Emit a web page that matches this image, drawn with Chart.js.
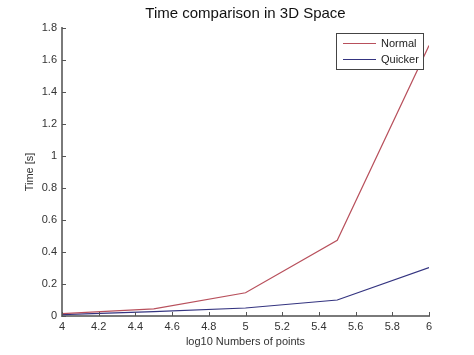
<!DOCTYPE html>
<html>
<head>
<meta charset="utf-8">
<script src="https://cdn.jsdelivr.net/npm/chart.js@4/dist/chart.umd.min.js"></script>
<style>
  html, body { margin: 0; padding: 0; background: #fff; }
  #wrap { width: 474px; height: 355px; }
</style>
</head>
<body>
<div id="wrap"><canvas id="c" width="474" height="355"></canvas></div>
<script>
const titleText = 'Time comparison in 3D Space';
const xTitle = 'log10 Numbers of points';
const yTitle = 'Time [s]';
const xValues = [4, 4.5, 5, 5.5, 6];
const normalValues = [0.015, 0.044, 0.145, 0.473, 1.69];
const quickerValues = [0.008, 0.027, 0.05, 0.10, 0.303];
const seriesNames = ['Normal', 'Quicker'];
const seriesColors = ['#b8505c', '#343480'];

const FONT = 'Liberation Sans, Arial, sans-serif';

const decor = {
  id: 'decor',
  afterDatasetsDraw(chart) {
    const ctx = chart.ctx;
    const xs = chart.scales.x, ys = chart.scales.y;
    const area = chart.chartArea;
    ctx.save();
    // inward tick marks
    ctx.strokeStyle = '#555';
    ctx.lineWidth = 1;
    xs.ticks.forEach(t => {
      const px = Math.round(xs.getPixelForValue(t.value)) + 0.5;
      ctx.beginPath();
      ctx.moveTo(px, area.bottom);
      ctx.lineTo(px, area.bottom - 4);
      ctx.stroke();
    });
    ys.ticks.forEach(t => {
      const py = Math.round(ys.getPixelForValue(t.value)) + 0.5;
      ctx.beginPath();
      ctx.moveTo(area.left, py);
      ctx.lineTo(area.left + 4, py);
      ctx.stroke();
    });
    // title centered over plot area
    ctx.fillStyle = '#111';
    ctx.font = '15px ' + FONT;
    ctx.textAlign = 'center';
    ctx.textBaseline = 'middle';
    ctx.fillText(titleText, (area.left + area.right) / 2, 13.5);
    // legend box
    const bx = 336.5, by = 33.5, bw = 87, bh = 36;
    ctx.fillStyle = '#fff';
    ctx.fillRect(bx, by, bw, bh);
    ctx.strokeStyle = '#444';
    ctx.lineWidth = 1;
    ctx.strokeRect(bx, by, bw, bh);
    ctx.font = '11px ' + FONT;
    ctx.textAlign = 'left';
    chart.data.datasets.forEach((ds, i) => {
      const ly = 43.5 + i * 16;
      ctx.strokeStyle = ds.borderColor;
      ctx.beginPath();
      ctx.moveTo(343, ly);
      ctx.lineTo(376, ly);
      ctx.stroke();
      ctx.fillStyle = '#222';
      ctx.fillText(ds.label, 381, ly + 0.5);
    });
    ctx.restore();
  }
};

new Chart(document.getElementById('c'), {
  type: 'line',
  data: {
    datasets: [
      { label: seriesNames[0], data: xValues.map((x, i) => ({x, y: normalValues[i]})),
        borderColor: seriesColors[0], borderWidth: 1.2, pointRadius: 0, tension: 0, fill: false },
      { label: seriesNames[1], data: xValues.map((x, i) => ({x, y: quickerValues[i]})),
        borderColor: seriesColors[1], borderWidth: 1.2, pointRadius: 0, tension: 0, fill: false }
    ]
  },
  options: {
    responsive: false,
    animation: false,
    devicePixelRatio: 1,
    layout: { padding: { left: 0, right: 45, top: 28, bottom: 0 } },
    plugins: { legend: { display: false }, title: { display: false }, tooltip: { enabled: false } },
    scales: {
      x: {
        type: 'linear', min: 4, max: 6,
        afterFit(s) { s.height = 39; },
        ticks: { stepSize: 0.2, padding: 4, color: '#333', font: { family: FONT, size: 11 },
                 maxRotation: 0, autoSkip: false,
                 callback: v => String(Math.round(v * 10) / 10) },
        grid: { drawOnChartArea: false, drawTicks: false },
        border: { display: true, color: '#7a7a7a', width: 2 },
        title: { display: true, text: xTitle, color: '#333', font: { family: FONT, size: 11 }, padding: { top: 0, bottom: 6 } }
      },
      y: {
        type: 'linear', min: 0, max: 1.8,
        afterFit(s) { s.width = 62; },
        ticks: { stepSize: 0.2, padding: 5, color: '#333', font: { family: FONT, size: 11 },
                 callback: v => String(Math.round(v * 10) / 10) },
        grid: { drawOnChartArea: false, drawTicks: false },
        border: { display: true, color: '#7a7a7a', width: 2 },
        title: { display: true, text: yTitle, color: '#333', font: { family: FONT, size: 11 }, padding: { top: 23, bottom: 0 } }
      }
    }
  },
  plugins: [decor]
});
</script>
</body>
</html>
